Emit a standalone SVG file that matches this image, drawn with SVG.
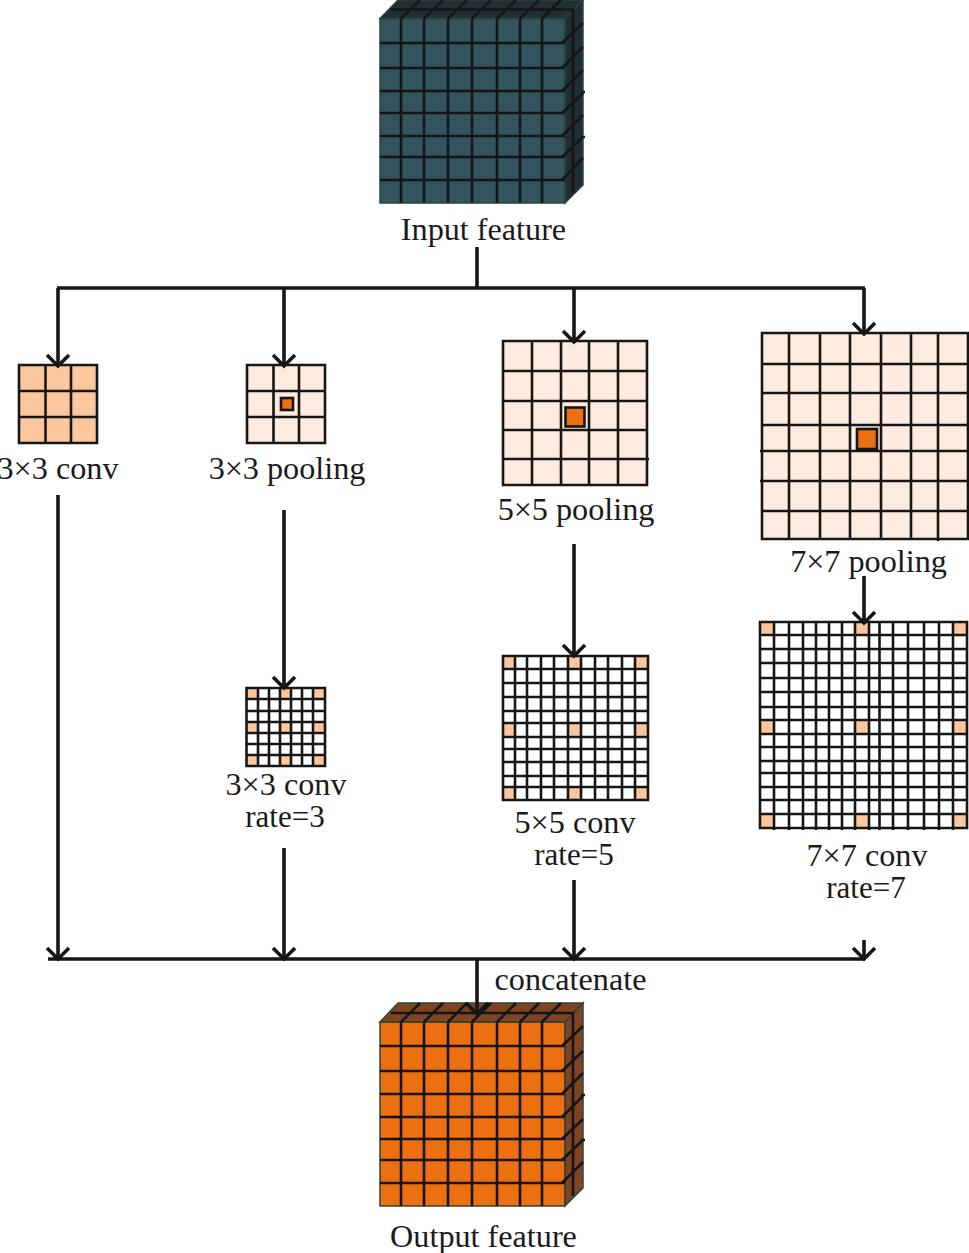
<svg xmlns="http://www.w3.org/2000/svg" width="969" height="1253" viewBox="0 0 969 1253">
<style>
text{font-family:"Liberation Serif","Times New Roman",serif;font-size:32.200px;fill:#1a1a1a;text-anchor:middle}
.r{font-size:31px}
.g{fill:none;stroke:#161616;stroke-width:2.600}
.c{fill:none;stroke:#161616;stroke-width:3.600}
.p{fill:#fdc79d}
.l{fill:#feebdf}
.o{fill:#ec6f12;stroke:#161616;stroke-width:2.600}
.e{stroke:#2e4436;stroke-width:1.500}
</style>
<defs>
<marker id="a" markerUnits="userSpaceOnUse" markerWidth="18" markerHeight="28" refX="15" refY="14" orient="auto" viewBox="0 0 18 28"><path d="M4 3L15 14L4 25" fill="none" stroke="#161616" stroke-width="3.600"/></marker>
</defs>
<g id="input-feature">
<path class="e" fill="#33535f" d="M380 18.500H565V203H380Z"/>
<path class="e" fill="#1f2f35" d="M380 18.500L398 0H583L565 18.500Z"/>
<path class="e" fill="#1f2f35" d="M565 18.500L583 0V185L565 203Z"/>
<path class="g" d="M401 18.500V203M424 18.500V203M448 18.500V203M472 18.500V203M497 18.500V203M520 18.500V203M542 18.500V203M380 43H565M380 68H565M380 91H565M380 113H565M380 136H565M380 157H565M380 180H565"/>
<path class="g" d="M391 9.500H573V193M401 18.500L420 0M424 18.500L443 0M448 18.500L467 0M472 18.500L491 0M497 18.500L516 0M520 18.500L539 0M542 18.500L561 0M562 43L583 23M562 68L583 47M562 91L583 70M562 113L583 93M562 136L583 115M562 157L583 137M562 180L583 158M581 92H585M581 137H585"/>
<text x="483.500" y="240">Input feature</text>
</g>
<g id="conv-3x3">
<rect class="p" x="19" y="365" width="78" height="78"/>
<path class="g" d="M19 365H97V443H19ZM45.500 365V443M71 365V443M19 391H97M19 417H97"/>
<text x="58" y="479">3×3 conv</text>
</g>
<g id="pool-3x3">
<rect class="l" x="247" y="365" width="78" height="78"/>
<path class="g" d="M247 365H325V443H247ZM273.500 365V443M299 365V443M247 391H325M247 417H325"/>
<rect class="o" x="281" y="398" width="12" height="12"/>
<text x="287" y="479">3×3 pooling</text>
</g>
<g id="pool-5x5">
<rect class="l" x="503" y="341" width="144" height="144"/>
<path class="g" d="M503 341H647V485H503ZM532 341V485M561 341V485M589 341V485M618 341V485M503 371H647M503 401H647M503 430H647M503 459H649"/>
<rect class="o" x="565.500" y="407.500" width="19" height="19"/>
<text x="576" y="520">5×5 pooling</text>
</g>
<g id="pool-7x7">
<rect class="l" x="762" y="333" width="206" height="206"/>
<path class="g" d="M762 333H968V539H762ZM789 333V539M820 333V539M850 333V539M881 333V539M911 333V539M938 333V541M762 364H968M762 393H968M762 425H968M760 451H968M760 481H968M762 511H968"/>
<rect class="o" x="857" y="429" width="20" height="20"/>
<text x="868.500" y="572">7×7 pooling</text>
</g>
<g id="conv-3x3-rate3">
<path class="p" d="M247 689h11v10h-11zM280 689h11v10h-11zM313 689h12v10h-12zM247 722h11v11h-11zM280 722h11v11h-11zM313 722h12v11h-12zM247 755h11v11h-11zM280 755h11v11h-11zM313 755h12v11h-12z"/>
<path class="g" d="M246.500 688H325V766H246.500ZM258 688V766M269 688V766M280 688V766M291 688V766M302 688V766M313 688V766M246.500 699H325M246.500 711H325M246.500 722H325M246.500 733H325M246.500 744H325M246.500 755H325"/>
<text x="286" y="794.500">3×3 conv<tspan class="r" x="285" dy="32">rate=3</tspan></text>
</g>
<g id="conv-5x5-rate5">
<path class="p" d="M503 656h12v13h-12zM568 656h13v13h-13zM635 656h13v13h-13zM503 723h12v14h-12zM568 723h13v14h-13zM635 723h13v14h-13zM503 787h12v13h-12zM568 787h13v13h-13zM635 787h13v13h-13z"/>
<path class="g" d="M503 656H648V800H503ZM515 656V800M527 656V800M541 656V800M554 656V800M568 656V800M581 656V800M595 656V800M608 656V800M622 656V800M635 656V800M503 669H648M503 683H648M503 697H648M503 711H648M503 723H648M503 737H648M503 749H648M503 762H648M503 776H648M503 787H648"/>
<text x="575" y="832.500">5×5 conv<tspan class="r" x="574" dy="32">rate=5</tspan></text>
</g>
<g id="conv-7x7-rate7">
<path class="p" d="M760 622h14v13h-14zM855 622h14v13h-14zM953 622h14v13h-14zM760 720h14v14h-14zM855 720h14v14h-14zM953 720h14v14h-14zM760 814h14v14h-14zM855 814h14v14h-14zM953 814h14v14h-14z"/>
<path class="g" d="M760 622H967V828H760ZM774 622V830M789 622V830M803 622V830M816 622V830M829 622V830M842 622V830M855 622V830M869 622V830M879.500 622V830M893 622V830M908 622V830M924 622V830M939 622V830M953 622V830M759 635H967M759 649H967M759 663H967M759 678H967M759 692H967M759 707H967M759 720H967M759 734H967M759 747H967M759 761H967M759 773H967M759 787H967M759 800H967M759 814H967"/>
<text x="867" y="865.500">7×7 conv<tspan class="r" x="866" dy="32">rate=7</tspan></text>
</g>
<g id="output-feature">
<path class="e" fill="#ec6f12" d="M380 1022H565V1206H380Z"/>
<path class="e" fill="#7f4322" d="M380 1022L398 1003H583L565 1022Z"/>
<path class="e" fill="#7f4322" d="M565 1022L583 1003V1188L565 1206Z"/>
<path class="g" d="M401 1022V1206M424 1022V1206M448 1022V1206M472 1022V1206M497 1022V1206M520 1022V1206M542 1022V1206M380 1046H565M380 1071H565M380 1094H565M380 1117H565M380 1139H565M380 1160H565M380 1183H565"/>
<path class="g" d="M391 1013H573V1196M401 1022L420 1003M424 1022L443 1003M448 1022L467 1003M472 1022L491 1003M497 1022L516 1003M520 1022L539 1003M542 1022L561 1003M562 1046L583 1026M562 1071L583 1051M562 1094L583 1073M562 1117L583 1096M562 1139L583 1119M562 1160L583 1140M562 1183L583 1162M581 1095H585M581 1140H585"/>
<text x="483.500" y="1246.500">Output feature</text>
</g>
<g id="connectors">
<path class="c" d="M477 247V288M57 288H865M48 959H865"/>
<path class="c" marker-end="url(#a)" d="M58 288V366"/>
<path class="c" marker-end="url(#a)" d="M284 288V366"/>
<path class="c" marker-end="url(#a)" d="M574 288V342"/>
<path class="c" marker-end="url(#a)" d="M864 288V334"/>
<path class="c" marker-end="url(#a)" d="M58 495V959"/>
<path class="c" marker-end="url(#a)" d="M284 510V688"/>
<path class="c" marker-end="url(#a)" d="M574 544V656"/>
<path class="c" marker-end="url(#a)" d="M864 576V623"/>
<path class="c" marker-end="url(#a)" d="M284 848V959"/>
<path class="c" marker-end="url(#a)" d="M574 880V959"/>
<path class="c" marker-end="url(#a)" d="M864 940V959"/>
<path class="c" marker-end="url(#a)" d="M477 959V1014"/>
</g>
<text x="570.500" y="989.500">concatenate</text>
</svg>
